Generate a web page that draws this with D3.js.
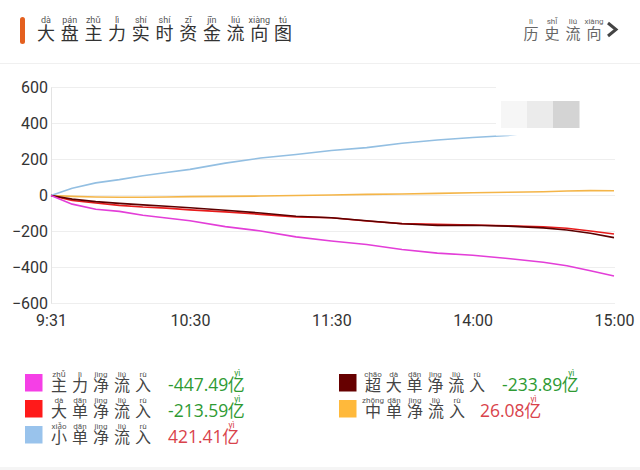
<!DOCTYPE html>
<html><head><meta charset="utf-8">
<script src="https://cdn.jsdelivr.net/npm/d3@7/dist/d3.min.js"></script>
<style>
html,body{margin:0;padding:0;background:#fff;}
svg{display:block;}
</style></head>
<body>
<svg id="chart" width="640" height="470"></svg>
<script>
// ---- data ----
const times = ["9:31","9:40","9:50","10:00","10:10","10:20","10:30","10:45","11:00","11:15","11:30",
               "13:15","13:30","13:45","14:00","14:15","14:30","14:40","14:50","15:00"];
const mainFlow   = [0,-48,-76,-88,-110,-125,-140,-173,-197,-230,-253,-272,-300,-320,-332,-350,-371,-390,-418,-447.49];
const superLarge = [0,-20,-34,-44,-52,-60,-68,-82,-97,-115,-124,-140,-157,-166,-165,-170,-180,-192,-210,-233.89];
const largeOrd   = [0,-28,-42,-55,-64,-70,-80,-91,-105,-119,-124,-142,-156,-160,-164,-168,-174,-182,-197,-213.59];
const mediumOrd  = [0,-5,-8,-10,-10,-8,-6,-5,-3,0,3,6,8,12,15,18,21,25,27,26.08];
const smallOrd   = [0,40,70,88,110,128,145,180,208,228,250,266,290,308,322,333,360,380,400,421.41];
const yTicks = [-600,-400,-200,0,200,400,600];
const xTickLabels = ["9:31","10:30","11:30","14:00","15:00"];

const titleChars = [["大","dà"],["盘","pán"],["主","zhǔ"],["力","lì"],["实","shí"],["时","shí"],["资","zī"],["金","jīn"],["流","liú"],["向","xiàng"],["图","tú"]];
const histChars = [["历","lì"],["史","shǐ"],["流","liú"],["向","xiàng"]];
const legendItems = [
  {chars:[["主","zhǔ"],["力","lì"],["净","jìng"],["流","liú"],["入","rù"]], value:"-447.49", color:"#f53fe6"},
  {chars:[["超","chāo"],["大","dà"],["单","dān"],["净","jìng"],["流","liú"],["入","rù"]], value:"-233.89", color:"#660000"},
  {chars:[["大","dà"],["单","dān"],["净","jìng"],["流","liú"],["入","rù"]], value:"-213.59", color:"#ff1a1a"},
  {chars:[["中","zhōng"],["单","dān"],["净","jìng"],["流","liú"],["入","rù"]], value:"26.08", color:"#ffb93b"},
  {chars:[["小","xiǎo"],["单","dān"],["净","jìng"],["流","liú"],["入","rù"]], value:"421.41", color:"#99c3ec"}
];

// trading-minute index from time string
function minuteIndex(t){
  const [h,m] = t.split(":").map(Number);
  const tot = h*60+m;
  if (tot <= 11*60+30) return tot - (9*60+30);
  return 120 + tot - 13*60;
}

const svg = d3.select("#chart");
const cjk = "'Noto Sans CJK SC','Noto Sans',sans-serif";
const num = "Roboto,'Noto Sans',sans-serif";

// header
svg.append("rect").attr("x",20).attr("y",17).attr("width",5).attr("height",27).attr("rx",2.5).attr("fill","#e4601f");
function ruby(g, chars, x0, step, base, size, psize, col, pcol, lift){
  chars.forEach((c,i)=>{
    const cx = x0 + i*step;
    g.append("text").attr("x",cx).attr("y",base).attr("text-anchor","middle")
      .attr("font-family",cjk).attr("font-size",size).attr("fill",col).text(c[0]);
    g.append("text").attr("x",cx).attr("y",base-lift).attr("text-anchor","middle")
      .attr("font-family",num).attr("font-size",psize).attr("fill",pcol).text(c[1]);
  });
}
ruby(svg, titleChars, 46, 23.7, 40, 18, 9, "#333", "#555", 17);
ruby(svg, histChars, 531, 21, 39, 15, 8, "#666", "#666", 15);
svg.append("path").attr("d","M608,23 L616,29.5 L608,36").attr("fill","none")
  .attr("stroke","#444").attr("stroke-width",3);
svg.append("line").attr("x1",0).attr("x2",640).attr("y1",63.5).attr("y2",63.5).attr("stroke","#f0f0f0");
svg.append("rect").attr("x",0).attr("y",467).attr("width",640).attr("height",3).attr("fill","#f5f5f5");

// scales
const x = d3.scaleLinear().domain([1,240]).range([51,614]);
const y = d3.scaleLinear().domain([-600,600]).range([303.5,87.5]);

// grid
const grid = svg.append("g");
grid.selectAll("line").data(yTicks).join("line")
  .attr("x1",51).attr("x2",615).attr("y1",d=>y(d)).attr("y2",d=>y(d))
  .attr("stroke","#eeeeee").attr("stroke-width",1);
svg.append("line").attr("x1",51.5).attr("x2",51.5).attr("y1",y(600)).attr("y2",y(-600)).attr("stroke","#e3e3e3");

// y labels
const yAxis = d3.axisLeft(y).tickValues(yTicks).tickSize(0).tickPadding(3).tickFormat(d3.format("d"));
const yg = svg.append("g").attr("transform","translate(51,0)").call(yAxis);
yg.select(".domain").remove();
yg.selectAll("text").attr("font-family",num).attr("font-size",16).attr("fill","#333");

// x labels
const xAxis = d3.axisBottom(x).tickValues(xTickLabels.map(minuteIndex)).tickSize(0).tickPadding(0)
  .tickFormat((d,i)=>xTickLabels[i]);
const xg = svg.append("g").attr("transform","translate(0,315)").call(xAxis);
xg.select(".domain").remove();
xg.selectAll("text").attr("font-family",num).attr("font-size",16).attr("fill","#333");

// lines
const series = [
  {v:mediumOrd, c:"#f4b548"},
  {v:smallOrd, c:"#93bfe2"},
  {v:largeOrd, c:"#e81c1c"},
  {v:superLarge, c:"#5c0000"},
  {v:mainFlow, c:"#e33ed8"}
];
const line = d3.line().x((d,i)=>x(minuteIndex(times[i]))).y(d=>y(d));
svg.append("g").selectAll("path").data(series).join("path")
  .attr("d",d=>line(d.v)).attr("fill","none").attr("stroke",d=>d.c).attr("stroke-width",1.6)
  .attr("stroke-linejoin","round");

// masking overlay (as in reference)
svg.append("rect").attr("x",496).attr("y",80).attr("width",130).attr("height",55.5).attr("fill","#fff");
[["#f6f6f6",501],["#ebebeb",527],["#d4d4d4",553]].forEach(([c,xx])=>{
  svg.append("rect").attr("x",xx).attr("y",101).attr("width",26.5).attr("height",27).attr("fill",c);
});

// legend
const legendPos = [
  {sx:25, cx:59, step:21, vx:168, row:0},
  {sx:339, cx:373, step:20.8, vx:502, row:0},
  {sx:25, cx:59, step:21, vx:168, row:1},
  {sx:339, cx:373, step:21, vx:480, row:1},
  {sx:25, cx:59, step:21, vx:168, row:2}
];
legendItems.forEach((it,k)=>{
  const p = legendPos[k];
  const top = 374 + p.row*26;
  const g = svg.append("g");
  g.append("rect").attr("x",p.sx).attr("y",top).attr("width",17.5).attr("height",17.5).attr("fill",it.color);
  ruby(g, it.chars, p.cx, p.step, top+17, 16, 8, "#444", "#555", 14);
  const neg = it.value.startsWith("-");
  const col = neg ? "#2f9a33" : "#d9434b";
  const t = g.append("text").attr("x",p.vx).attr("y",top+17).attr("font-family","'Open Sans',sans-serif")
    .attr("font-size",17.5).attr("fill",col).text(it.value);
  const w = t.node().getComputedTextLength();
  g.append("text").attr("x",p.vx+w+8).attr("y",top+17).attr("text-anchor","middle")
    .attr("font-family",cjk).attr("font-size",17).attr("fill",col).text("亿");
  g.append("text").attr("x",p.vx+w+9).attr("y",top+2).attr("text-anchor","middle")
    .attr("font-family",num).attr("font-size",8.5).attr("fill",col).text("yì");
});
</script>
</body></html>
